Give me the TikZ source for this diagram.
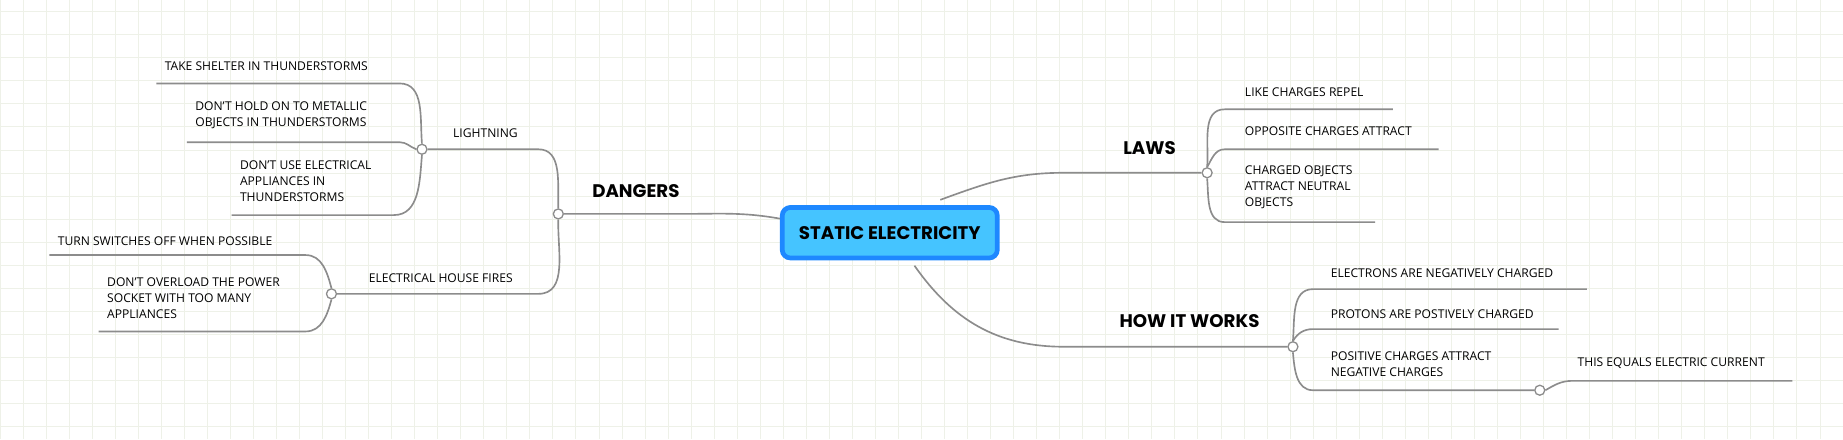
\documentclass[tikz,border=0pt]{standalone}
\usepackage{fontspec}
\setmainfont{Open Sans}
\newfontfamily\titlefont{Poppins}
\usetikzlibrary{positioning}
\definecolor{gridcol}{HTML}{EEF1E8}
\definecolor{linecol}{HTML}{8C8C8C}
\definecolor{hubfill}{HTML}{45C4FF}
\definecolor{hubdraw}{HTML}{1E88FF}
\tikzset{
  branch/.style={draw=linecol, line width=1.4pt},
  knot/.style={circle, draw=linecol, fill=white, line width=1.1pt, inner sep=0pt, minimum size=8.5pt},
  leaf/.style={anchor=south west, align=left, inner sep=0pt, font=\fontsize{10.3}{13.6}\selectfont},
  topic/.style={anchor=south, inner sep=0pt, font=\titlefont\bfseries\fontsize{15.5}{17}\selectfont},
  hub/.style={draw=hubdraw, fill=hubfill, line width=4pt, rounded corners=7pt, minimum width=183pt, minimum height=43pt, font=\titlefont\bfseries\fontsize{15.5}{17}\selectfont}
}
\begin{document}
\begin{tikzpicture}[x=1pt,y=-1pt]
        \useasboundingbox (0,0) rectangle (1568,373.5);
        \fill[white] (0,0) rectangle (1568,373.5);
        \foreach \g in {0,19.6,...,1568} {
        \draw[gridcol, line width=0.8pt] (\g,0) -- (\g,373.5);
        }
        \foreach \g in {10,29.6,...,373.5} {
        \draw[gridcol, line width=0.8pt] (0,\g) -- (1568,\g);
        }

        % centre
        \node[hub] (hub) at (757,198) {STATIC ELECTRICITY};

        % dangers
        \node[knot] (dng) at (475,182) {};
        \node[topic] at (541,168) {DANGERS};
        \coordinate (dngA) at (580,182);
        \draw[branch] (hub.west |- 0,186) to[out=170,in=0] (dngA) -- (dng);

        \node[knot] (ltn) at (359,127) {};
        \node[leaf, anchor=south] at (413,117) {LIGHTNING};
        \coordinate (ltnA) at (458,127);
        \draw[branch] (dng.north) to[out=92,in=0] (ltnA) -- (ltn);
        \node[knot] (fir) at (282,250) {};
        \node[leaf, anchor=south] at (375,241) {ELECTRICAL HOUSE FIRES};
        \coordinate (firA) at (458,250);
        \draw[branch] (dng.south) to[out=-92,in=0] (firA) -- (fir);

        \coordinate (sh1) at (133,71);
        \coordinate (sh2) at (159,121);
        \coordinate (sh3) at (197,183);
        \node[leaf] at (140,60) {TAKE SHELTER IN THUNDERSTORMS};
        \node[leaf] at (166,110) {DON'T HOLD ON TO METALLIC\\OBJECTS IN THUNDERSTORMS};
        \node[leaf] at (204,172) {DON'T USE ELECTRICAL\\APPLIANCES IN\\THUNDERSTORMS};
        \draw[branch] (ltn.north) to[out=95,in=0] (340,71) -- (sh1);
        \draw[branch] (ltn.west) to[out=160,in=0] (340,121) -- (sh2);
        \draw[branch] (ltn.south) to[out=-95,in=0] (335,183) -- (sh3);

        \coordinate (sw1) at (42,217);
        \coordinate (sw2) at (84,282);
        \node[leaf] at (49,209) {TURN SWITCHES OFF WHEN POSSIBLE};
        \node[leaf] at (91,271) {DON'T OVERLOAD THE POWER\\SOCKET WITH TOO MANY\\APPLIANCES};
        \draw[branch] (fir.north) to[out=105,in=0] (260,217) -- (sw1);
        \draw[branch] (fir.south) to[out=-105,in=0] (260,282) -- (sw2);

        % laws
        \node[knot] (law) at (1027,147) {};
        \node[topic] at (978,132) {LAWS};
        \coordinate (lawA) at (905,147);
        \draw[branch] (800,170) to[out=20,in=180] (lawA) -- (law);
        \coordinate (lw1) at (1185,93);
        \coordinate (lw2) at (1224,127);
        \coordinate (lw3) at (1170,189);
        \node[leaf] at (1059,82) {LIKE CHARGES REPEL};
        \node[leaf] at (1059,116) {OPPOSITE CHARGES ATTRACT};
        \node[leaf] at (1059,178) {CHARGED OBJECTS\\ATTRACT NEUTRAL\\OBJECTS};
        \draw[branch] (law.north) to[out=85,in=180] (1042,93) -- (lw1);
        \draw[branch] (law.north) to[out=60,in=180] (1042,127) -- (lw2);
        \draw[branch] (law.south) to[out=-85,in=180] (1042,189) -- (lw3);

        % how it works
        \node[knot] (how) at (1100,295) {};
        \node[topic] at (1012,279) {HOW IT WORKS};
        \coordinate (howA) at (905,295);
        \draw[branch] (778,226) to[out=-55,in=180] (howA) -- (how);
        \coordinate (hw1) at (1350,246);
        \coordinate (hw2) at (1326,280);
        \node[knot] (cur) at (1310,332) {};
        \node[leaf] at (1132,236) {ELECTRONS ARE NEGATIVELY CHARGED};
        \node[leaf] at (1132,271) {PROTONS ARE POSTIVELY CHARGED};
        \node[leaf] at (1132,321) {POSITIVE CHARGES ATTRACT\\NEGATIVE CHARGES};
        \draw[branch] (how.north) to[out=85,in=180] (1117,246) -- (hw1);
        \draw[branch] (how.north) to[out=60,in=180] (1117,280) -- (hw2);
        \draw[branch] (how.south) to[out=-85,in=180] (1117,332) -- (cur);
        \coordinate (ec) at (1525,324);
        \node[leaf] at (1342,314) {THIS EQUALS ELECTRIC CURRENT};
        \draw[branch] (cur.east) to[out=30,in=180] (1338,324) -- (ec);
    \end{tikzpicture}
\end{document}
